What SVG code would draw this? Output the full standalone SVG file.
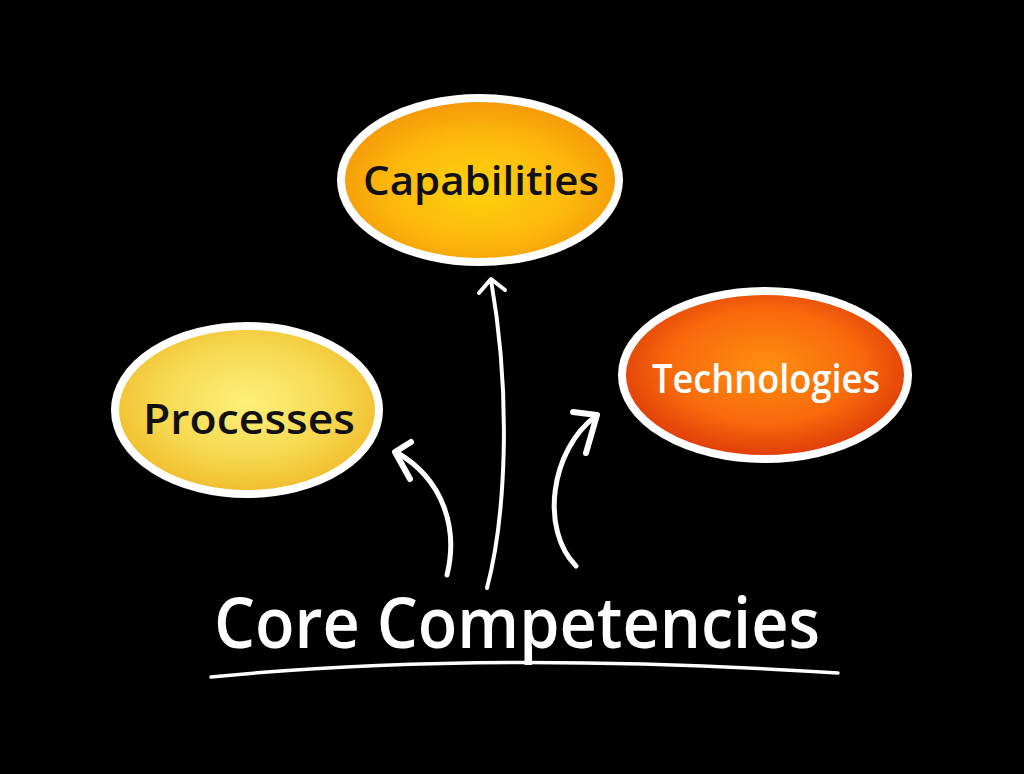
<svg xmlns="http://www.w3.org/2000/svg" width="1024" height="774" viewBox="0 0 1024 774">
<defs>
<radialGradient id="gCap" cx="0.5" cy="0.55" r="0.55">
<stop offset="0" stop-color="#ffd20a"/>
<stop offset="0.6" stop-color="#fcb80c"/>
<stop offset="1" stop-color="#f49608"/>
</radialGradient>
<radialGradient id="gProc" cx="0.5" cy="0.45" r="0.55">
<stop offset="0" stop-color="#fbf07a"/>
<stop offset="0.6" stop-color="#f7d950"/>
<stop offset="1" stop-color="#f0bc2c"/>
</radialGradient>
<radialGradient id="gTech" cx="0.5" cy="0.45" r="0.55">
<stop offset="0" stop-color="#ff8e10"/>
<stop offset="0.6" stop-color="#f86a0c"/>
<stop offset="1" stop-color="#de3a08"/>
</radialGradient>
<style>
.bubble{stroke:#ffffff;stroke-width:8}
.lbl{font-family:"Open Sans","Liberation Sans",sans-serif;font-weight:600;text-anchor:middle}
.arr{fill:none;stroke:#ffffff;stroke-linecap:round;stroke-linejoin:round}
</style>
</defs>
<rect x="0" y="0" width="1024" height="774" fill="#000000"/>

<g id="node-capabilities">
<ellipse class="bubble" cx="480" cy="180" rx="139" ry="82" fill="url(#gCap)"/>
<text class="lbl" x="481" y="195" font-size="40" fill="#111111" textLength="236" lengthAdjust="spacingAndGlyphs">Capabilities</text>
</g>

<g id="node-processes">
<ellipse class="bubble" cx="247" cy="410" rx="132" ry="84" fill="url(#gProc)"/>
<text class="lbl" x="249" y="434" font-size="42" fill="#111111" textLength="212" lengthAdjust="spacingAndGlyphs">Processes</text>
</g>

<g id="node-technologies">
<ellipse class="bubble" cx="765" cy="375" rx="143" ry="84" fill="url(#gTech)"/>
<text class="lbl" x="766" y="393" font-size="40" fill="#ffffff" textLength="228" lengthAdjust="spacingAndGlyphs">Technologies</text>
</g>

<g id="title">
<text class="lbl" x="517" y="648" font-size="70" fill="#ffffff" textLength="606" lengthAdjust="spacingAndGlyphs">Core Competencies</text>
<path d="M211 677 Q 480 650 838 673" fill="none" stroke="#ffffff" stroke-width="3.5" stroke-linecap="round"/>
</g>

<g id="connectors">
<path class="arr" stroke-width="4" d="M487 588 C 505 520, 512 400, 491 280"/>
<path class="arr" stroke-width="4" d="M479 293 L 491 279 L 505 290"/>
<path class="arr" stroke-width="5" d="M447 575 C 458 530, 445 480, 396 452"/>
<path class="arr" stroke-width="6" d="M411 442 L 395 452 L 410 479"/>
<path class="arr" stroke-width="5" d="M576 566 C 540 530, 550 450, 596 416"/>
<path class="arr" stroke-width="6" d="M573 412 L 597 415 L 586 453"/>
</g>
</svg>
